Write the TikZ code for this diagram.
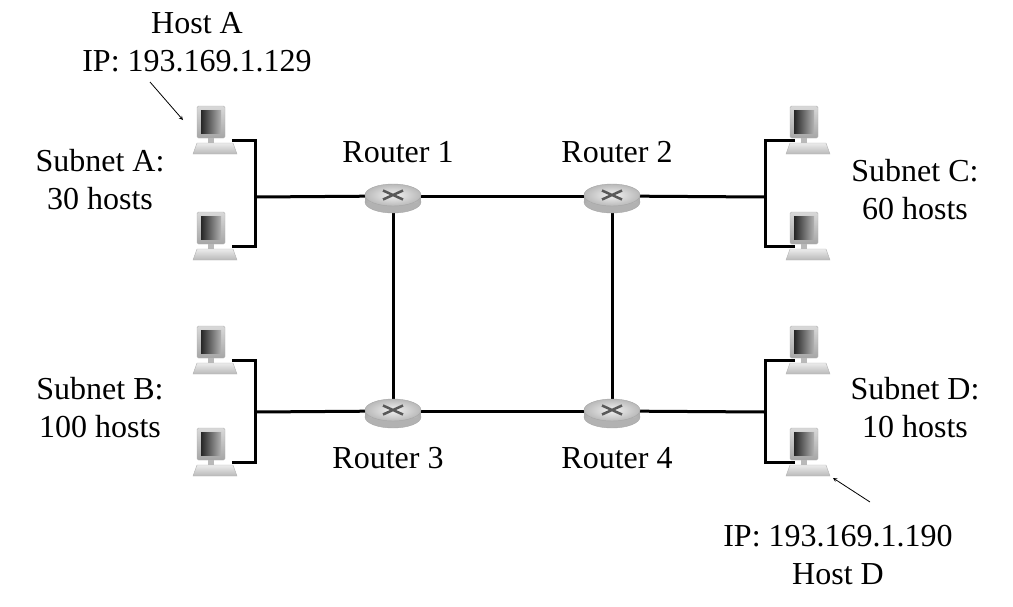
\documentclass[tikz,border=0pt]{standalone}
\usepackage{fontspec}
\setmainfont{Liberation Serif}
\usetikzlibrary{positioning}
\tikzset{
  lbl/.style={font=\fontsize{32}{38}\selectfont, align=center, inner sep=0pt},
  link/.style={line width=3pt},
  pointer/.style={-stealth, line width=0.8pt},
  pc/.pic={
    \shade[top color=gray!30, bottom color=gray!70, draw=gray!60, rounded corners=1.5pt]
      (-15,-34) rectangle (13,-2);
    \shade[left color=black!85, right color=gray!60] (-11,-30) rectangle (9,-7);
    \fill[gray!55] (-4,-2) rectangle (2,3);
    \shade[top color=gray!15, bottom color=gray!55, draw=gray!60]
      (-15,3) -- (21,3) -- (25,14) -- (-19,14) -- cycle;
  },
  router/.pic={
    \fill[gray!60, draw=gray!70] (0,6) ellipse[x radius=28, y radius=11];
    \shade[left color=gray!65, right color=gray!65, middle color=gray!25]
      (-27.6,-1) rectangle (27.6,6);
    \shade[inner color=gray!10, outer color=gray!55, draw=gray!70]
      (0,-1) ellipse[x radius=28, y radius=11];
    \draw[gray!70!black, line width=2.5pt] (-10,-5.5) -- (10,3.5) (-10,3.5) -- (10,-5.5);
  }
}
\begin{document}
\begin{tikzpicture}[x=1pt, y=-1pt]
\useasboundingbox (0,0) rectangle (1013,606);
% routers
\coordinate (r1) at (393,196);
\coordinate (r2) at (612,196);
\coordinate (r3) at (393,411);
\coordinate (r4) at (612,411);
% hosts
\coordinate (a1) at (212,140);
\coordinate (a2) at (212,246);
\coordinate (b1) at (212,360);
\coordinate (b2) at (212,462);
\coordinate (c1) at (805,140);
\coordinate (c2) at (805,246);
\coordinate (d1) at (805,360);
\coordinate (d2) at (805,462);
% bus joints
\coordinate (ja) at (255,197);
\coordinate (jb) at (255,412);
\coordinate (jc) at (765,197);
\coordinate (jd) at (765,412);
% links
\draw[link] (r1) -- (r2) (r1) -- (r3) (r2) -- (r4) (r3) -- (r4);
\draw[link] (ja) -- (r1) (jb) -- (r3) (jc) -- (r2) (jd) -- (r4);
\draw[link] ([xshift=20]a1) -| (ja) |- ([xshift=20]a2);
\draw[link] ([xshift=20]b1) -| (jb) |- ([xshift=20]b2);
\draw[link] ([xshift=-10]c1) -| (jc) |- ([xshift=-10]c2);
\draw[link] ([xshift=-10]d1) -| (jd) |- ([xshift=-10]d2);
\foreach \r in {r1,r2,r3,r4} \pic at (\r) {router};
\foreach \h in {a1,a2,b1,b2,c1,c2,d1,d2} \pic at (\h) {pc};
% labels
\node[lbl] (ra) at (398,152) {Router 1};
\node[lbl] (rb) at (617,152) {Router 2};
\node[lbl] (rc) at (388,458) {Router 3};
\node[lbl] (rd) at (617,458) {Router 4};
\node[lbl] (sa) at (100,180) {Subnet A:\\30 hosts};
\node[lbl] (sb) at (100,408) {Subnet B:\\100 hosts};
\node[lbl] (sc) at (915,190) {Subnet C:\\60 hosts};
\node[lbl] (sd) at (915,408) {Subnet D:\\10 hosts};
\node[lbl] (ha) at (197,42) {Host A\\IP: 193.169.1.129};
\node[lbl] (hd) at (838,555) {IP: 193.169.1.190\\Host D};
\coordinate (pa) at (183,120);
\coordinate (pd) at (833,478);
\draw[pointer] (150,82) -- (pa);
\draw[pointer] (870,502) -- (pd);
\end{tikzpicture}
\end{document}
